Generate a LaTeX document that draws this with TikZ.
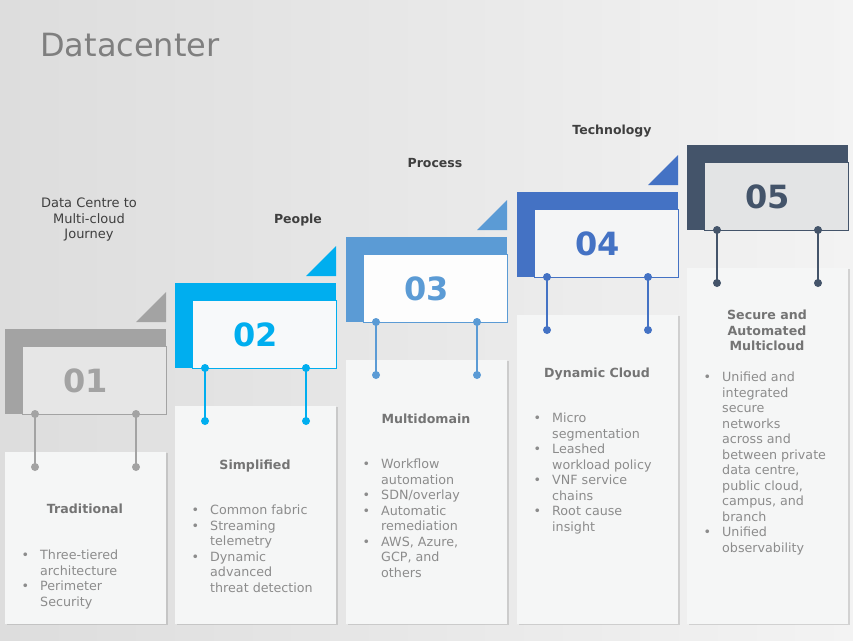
\documentclass[tikz,border=0pt]{standalone}
\usepackage{fontspec}
\setmainfont{DejaVu Sans}
\usetikzlibrary{shadows}
\definecolor{bgL}{HTML}{DDDDDD}
\definecolor{bgR}{HTML}{F3F3F3}
\definecolor{cA}{HTML}{A3A3A3}
\definecolor{cB}{HTML}{00AEEF}
\definecolor{cC}{HTML}{5B9BD5}
\definecolor{cD}{HTML}{4472C4}
\definecolor{cE}{HTML}{44546A}
\definecolor{fA}{HTML}{E6E6E6}
\definecolor{fB}{HTML}{F7F9FA}
\definecolor{fC}{HTML}{FDFDFD}
\definecolor{fD}{HTML}{F4F5F6}
\definecolor{fE}{HTML}{E3E4E5}
\definecolor{cardfill}{HTML}{F5F6F6}
\definecolor{bodytext}{HTML}{8C8C8C}
\definecolor{cardtitle}{HTML}{747474}
\definecolor{headtext}{HTML}{3F3F3F}
\definecolor{titlegray}{HTML}{7F7F7F}
\newcommand\bi{\makebox[18.5pt][l]{•}}
\newcommand\blist[1]{\begin{tabular}[t]{@{}l@{}l@{}}#1\end{tabular}}
\newcommand\ctext[1]{\begin{tabular}[t]{@{}c@{}}#1\end{tabular}}
\tikzset{
  inbox/.style={line width=0.6pt, inner sep=0pt, outer sep=0pt, minimum width=144pt, minimum height=68pt},
  numtext/.style={font=\fontsize{32}{34}\selectfont\bfseries, inner sep=0pt},
  card/.style={fill=cardfill, inner sep=0pt, outer sep=0pt, minimum width=161pt,
    drop shadow={shadow xshift=1.8pt, shadow yshift=-1.2pt, opacity=0.28}},
  pindot/.style={circle, inner sep=0pt, minimum size=8pt},
  pinline/.style={line width=1.8pt},
  cardhead/.style={font=\fontsize{12.6}{15.5}\selectfont\bfseries, text=cardtitle, inner sep=0pt, anchor=base},
  bullets/.style={font=\fontsize{12.7}{15.5}\selectfont, text=bodytext, inner sep=0pt, anchor=base west},
  steplabel/.style={font=\fontsize{12.5}{15.5}\selectfont\bfseries, text=headtext, inner sep=0pt, anchor=base}
}
% #1 name, #2 left x, #3 top y, #4 colour, #5 number, #6 inner fill
\newcommand\stepunit[6]{%
  \node[card, anchor=north west, minimum height={(501-#3)*1pt}] (#1card) at (#2,{#3+123}) {};
  \fill[#4] (#2,#3) rectangle ({#2+161},{#3+85});
  \node[inbox, draw=#4, fill=#6, anchor=north west] (#1box) at ({#2+17},{#3+17}) {};
  \node[numtext, text=#4] (#1num) at ({#2+80.5},{#3+52}) {#5};
  \node[pindot, fill=#4] (#1pa) at ({#2+30},{#3+85}) {};
  \node[pindot, fill=#4] (#1pb) at ({#2+131},{#3+85}) {};
  \node[pindot, fill=#4] (#1pc) at ({#2+30},{#3+138}) {};
  \node[pindot, fill=#4] (#1pd) at ({#2+131},{#3+138}) {};
  \draw[pinline, #4] (#1pa.center) -- (#1pc.center);
  \draw[pinline, #4] (#1pb.center) -- (#1pd.center);
}
\newcommand\steptri[3]{%
  \fill[#3] ({#1+131},{#2-7}) -- ++(30,0) -- ++(0,-30) -- cycle;
}
\begin{document}
\begin{tikzpicture}[x=1pt, y=-1pt]
\useasboundingbox (0,0) rectangle (853,640);
\shade[left color=bgL, right color=bgR] (0,0) rectangle (853,640);

\node[font=\fontsize{32}{38}\selectfont, text=titlegray, anchor=base west, inner sep=0pt] (title) at (40,56) {Datacenter};

% column 1
\stepunit{s1}{5}{329}{cA}{01}{fA}
\steptri{5}{329}{cA}
\node[font=\fontsize{13}{15.5}\selectfont, text=headtext, inner sep=0pt, anchor=base] (lab1) at (89,207.5)
  {\ctext{Data Centre to\\Multi-cloud\\Journey}};
\node[cardhead] (h1) at (85,513.5) {Traditional};
\node[bullets] (b1) at (21.5,559.5) {\blist{\bi & Three-tiered\\ & architecture\\ \bi & Perimeter\\ & Security}};

% column 2
\stepunit{s2}{175}{283}{cB}{02}{fB}
\steptri{175}{283}{cB}
\node[steplabel] (lab2) at (298,223.5) {People};
\node[cardhead] (h2) at (255,469.5) {Simplified};
\node[bullets] (b2) at (191.5,514.5) {\blist{\bi & Common fabric\\ \bi & Streaming\\ & telemetry\\ \bi & Dynamic\\ & advanced\\ & threat detection}};

% column 3
\stepunit{s3}{346}{237}{cC}{03}{fC}
\steptri{346}{237}{cC}
\node[steplabel] (lab3) at (435,167.5) {Process};
\node[cardhead] (h3) at (426,423.5) {Multidomain};
\node[bullets] (b3) at (362.5,468.5) {\blist{\bi & Workflow\\ & automation\\ \bi & SDN/overlay\\ \bi & Automatic\\ & remediation\\ \bi & AWS, Azure,\\ & GCP, and\\ & others}};

% column 4
\stepunit{s4}{517}{192}{cD}{04}{fD}
\steptri{517}{192}{cD}
\node[steplabel] (lab4) at (612,134.5) {Technology};
\node[cardhead] (h4) at (597,377.5) {Dynamic Cloud};
\node[bullets] (b4) at (533.5,422.5) {\blist{\bi & Micro\\ & segmentation\\ \bi & Leashed\\ & workload policy\\ \bi & VNF service\\ & chains\\ \bi & Root cause\\ & insight}};

% column 5
\stepunit{s5}{687}{145}{cE}{05}{fE}
\node[cardhead] (h5) at (767,319.5) {\ctext{Secure and\\Automated\\Multicloud}};
\node[bullets] (b5) at (703.5,381.5) {\blist{\bi & Unified and\\ & integrated\\ & secure\\ & networks\\ & across and\\ & between private\\ & data centre,\\ & public cloud,\\ & campus, and\\ & branch\\ \bi & Unified\\ & observability}};
\end{tikzpicture}
\end{document}
